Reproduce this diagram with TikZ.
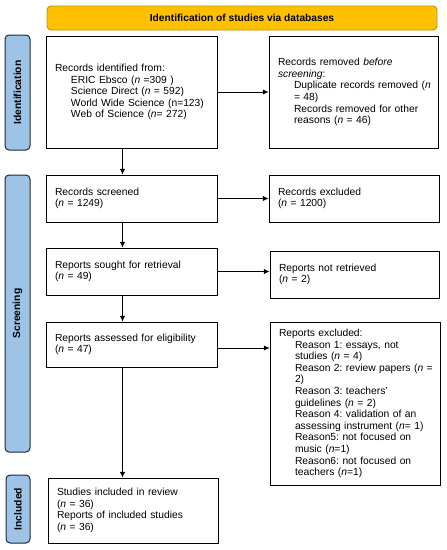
\documentclass[tikz,border=0pt]{standalone}
\usepackage{fontspec}
\setmainfont{Liberation Sans}
\usetikzlibrary{arrows.meta,calc}
\frenchspacing

\definecolor{headgold}{RGB}{255,192,0}
\definecolor{headedge}{RGB}{191,144,0}
\definecolor{sideblue}{RGB}{157,195,230}
\definecolor{sideedge}{RGB}{31,40,56}

\newcommand{\ind}[1]{\hspace*{16pt}\mbox{#1}}

\tikzset{
  stagebox/.style={draw,line width=0.9pt,inner xsep=9pt,inner ysep=2pt,
    align=left,font=\fontsize{10.3}{11.6}\selectfont},
  sidebar/.style={draw=sideedge,fill=sideblue,line width=1pt,rounded corners=4pt},
  sidelabel/.style={rotate=90,font=\bfseries\fontsize{10.3}{11}\selectfont},
  arr/.style={-{Latex[length=2mm,width=1.8mm]},line width=0.6pt}
}

\begin{document}
\begin{tikzpicture}[x=1pt,y=-1pt]
    \useasboundingbox (0,0) rectangle (447,550);

    % header
    \node[draw=headedge,fill=headgold,line width=0.9pt,rounded corners=4pt,
          minimum width=390,minimum height=24,font=\bfseries\fontsize{10.2}{11}\selectfont]
          (head) at (242,18) {Identification of studies via databases};

    % phase bars
    \node[sidebar,minimum width=25,minimum height=115] (sideid) at (17.5,92.5) {};
    \node[sidelabel] at (sideid) {Identification};
    \node[sidebar,minimum width=25,minimum height=277] (sidescr) at (17.5,313.5) {};
    \node[sidelabel] at (sidescr) {Screening};
    \node[sidebar,minimum width=24,minimum height=68] (sideinc) at (18,509) {};
    \node[sidelabel] at (sideinc) {Included};

    % left column
    \node[stagebox,text width=153,minimum height=112] (ident) at (131.5,92)
        {Records identified from:\\
         \ind{ERIC Ebsco (\emph{n} =309 )}\\
         \ind{Science Direct (\emph{n} = 592)}\\
         \ind{World Wide Science (n=123)}\\
         \ind{Web of Science (\emph{n}= 272)}};
    \node[stagebox,text width=153,minimum height=47] (screened) at (131.5,198.5)
        {Records screened\\(\emph{n} = 1249)};
    \node[stagebox,text width=153,minimum height=47] (sought) at (131.5,271.5)
        {Reports sought for retrieval\\(\emph{n} = 49)};
    \node[stagebox,text width=153,minimum height=45] (assessed) at (131.5,344.5)
        {Reports assessed for eligibility\\(\emph{n} = 47)};
    \node[stagebox,text width=152,minimum height=65] (included) at (133,510.5)
        {Studies included in review\\(\emph{n} = 36)\\
         Reports of included studies\\(\emph{n} = 36)};

    % right column
    \node[stagebox,text width=151,minimum height=112] (removed) at (353.5,92)
        {Records removed \emph{before}\\\emph{screening}:\\
         \ind{Duplicate records removed (\emph{n}}\\
         \ind{= 48)}\\
         \ind{Records removed for other}\\
         \ind{reasons (\emph{n} = 46)}};
    \node[stagebox,text width=152,minimum height=47] (excluded) at (354,198.5)
        {Records excluded\\(\emph{n} = 1200)};
    \node[stagebox,text width=151,minimum height=47] (notretr) at (354.5,274.5)
        {Reports not retrieved\\(\emph{n} = 2)};
    \node[stagebox,text width=152,minimum height=163] (repexcl) at (355,403.5)
        {Reports excluded:\\
         \ind{Reason 1: essays, not}\\
         \ind{studies (\emph{n} = 4)}\\
         \ind{Reason 2: review papers (\emph{n} =}\\
         \ind{2)}\\
         \ind{Reason 3: teachers'}\\
         \ind{guidelines (\emph{n} = 2)}\\
         \ind{Reason 4: validation of an}\\
         \ind{assessing instrument (\emph{n}= 1)}\\
         \ind{Reason5: not focused on}\\
         \ind{music (\emph{n}=1)}\\
         \ind{Reason6: not focused on}\\
         \ind{teachers (\emph{n}=1)}};

    % flow
    \draw[arr] ([xshift=-9pt]ident.south) -- ([xshift=-9pt]screened.north);
    \draw[arr] ([xshift=-9pt]screened.south) -- ([xshift=-9pt]sought.north);
    \draw[arr] ([xshift=-9pt]sought.south) -- ([xshift=-9pt]assessed.north);
    \draw[arr] ([xshift=-9pt]assessed.south) -- ([xshift=-9pt]assessed.south |- included.north);
    \draw[arr] (ident) -- (removed);
    \draw[arr] (screened) -- (excluded);
    \draw[arr] (sought.east) -- (sought.east -| notretr.west);
    \draw[arr] ([yshift=-3.5pt]assessed.east) -- ([yshift=-3.5pt]assessed.east -| repexcl.west);
\end{tikzpicture}
\end{document}
